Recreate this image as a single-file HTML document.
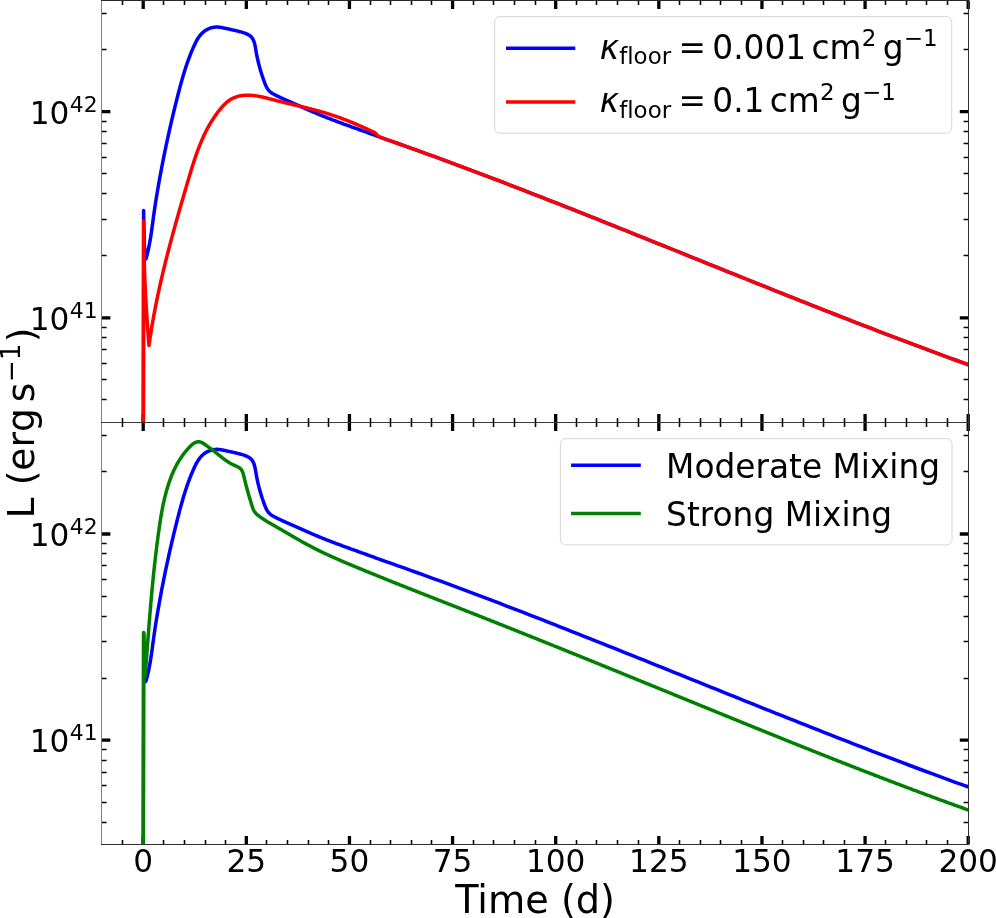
<!DOCTYPE html>
<html lang="en"><head><meta charset="utf-8"><title>Light curves</title>
<style>html,body{margin:0;padding:0;background:#fff;}body{width:996px;height:918px;overflow:hidden;}svg{display:block;}</style>
</head><body>
<svg width="996" height="918" viewBox="0 0 996 918" style="display:block">
<rect x="0" y="0" width="996" height="918" fill="#fff"/>
<defs>
<clipPath id="c1"><rect x="101.95" y="0.5" width="866.25" height="422.0"/></clipPath>
<clipPath id="c2"><rect x="101.95" y="422.5" width="866.25" height="422.0"/></clipPath>
</defs>
<path d="M122.50,0.50V5.10M122.50,417.90V427.10M122.50,839.90V844.50M163.50,0.50V5.10M163.50,417.90V427.10M163.50,839.90V844.50M184.50,0.50V5.10M184.50,417.90V427.10M184.50,839.90V844.50M205.50,0.50V5.10M205.50,417.90V427.10M205.50,839.90V844.50M225.50,0.50V5.10M225.50,417.90V427.10M225.50,839.90V844.50M266.50,0.50V5.10M266.50,417.90V427.10M266.50,839.90V844.50M287.50,0.50V5.10M287.50,417.90V427.10M287.50,839.90V844.50M308.50,0.50V5.10M308.50,417.90V427.10M308.50,839.90V844.50M328.50,0.50V5.10M328.50,417.90V427.10M328.50,839.90V844.50M370.50,0.50V5.10M370.50,417.90V427.10M370.50,839.90V844.50M390.50,0.50V5.10M390.50,417.90V427.10M390.50,839.90V844.50M411.50,0.50V5.10M411.50,417.90V427.10M411.50,839.90V844.50M431.50,0.50V5.10M431.50,417.90V427.10M431.50,839.90V844.50M473.50,0.50V5.10M473.50,417.90V427.10M473.50,839.90V844.50M493.50,0.50V5.10M493.50,417.90V427.10M493.50,839.90V844.50M514.50,0.50V5.10M514.50,417.90V427.10M514.50,839.90V844.50M535.50,0.50V5.10M535.50,417.90V427.10M535.50,839.90V844.50M576.50,0.50V5.10M576.50,417.90V427.10M576.50,839.90V844.50M596.50,0.50V5.10M596.50,417.90V427.10M596.50,839.90V844.50M617.50,0.50V5.10M617.50,417.90V427.10M617.50,839.90V844.50M638.50,0.50V5.10M638.50,417.90V427.10M638.50,839.90V844.50M679.50,0.50V5.10M679.50,417.90V427.10M679.50,839.90V844.50M700.50,0.50V5.10M700.50,417.90V427.10M700.50,839.90V844.50M720.50,0.50V5.10M720.50,417.90V427.10M720.50,839.90V844.50M741.50,0.50V5.10M741.50,417.90V427.10M741.50,839.90V844.50M782.50,0.50V5.10M782.50,417.90V427.10M782.50,839.90V844.50M803.50,0.50V5.10M803.50,417.90V427.10M803.50,839.90V844.50M823.50,0.50V5.10M823.50,417.90V427.10M823.50,839.90V844.50M844.50,0.50V5.10M844.50,417.90V427.10M844.50,839.90V844.50M885.50,0.50V5.10M885.50,417.90V427.10M885.50,839.90V844.50M906.50,0.50V5.10M906.50,417.90V427.10M906.50,839.90V844.50M926.50,0.50V5.10M926.50,417.90V427.10M926.50,839.90V844.50M947.50,0.50V5.10M947.50,417.90V427.10M947.50,839.90V844.50M101.95,399.50H106.55M963.60,399.50H968.20M101.95,379.50H106.55M963.60,379.50H968.20M101.95,363.50H106.55M963.60,363.50H968.20M101.95,349.50H106.55M963.60,349.50H968.20M101.95,337.50H106.55M963.60,337.50H968.20M101.95,327.50H106.55M963.60,327.50H968.20M101.95,255.50H106.55M963.60,255.50H968.20M101.95,219.50H106.55M963.60,219.50H968.20M101.95,193.50H106.55M963.60,193.50H968.20M101.95,173.50H106.55M963.60,173.50H968.20M101.95,157.50H106.55M963.60,157.50H968.20M101.95,143.50H106.55M963.60,143.50H968.20M101.95,131.50H106.55M963.60,131.50H968.20M101.95,121.50H106.55M963.60,121.50H968.20M101.95,49.50H106.55M963.60,49.50H968.20M101.95,13.50H106.55M963.60,13.50H968.20M101.95,822.50H106.55M963.60,822.50H968.20M101.95,802.50H106.55M963.60,802.50H968.20M101.95,785.50H106.55M963.60,785.50H968.20M101.95,772.50H106.55M963.60,772.50H968.20M101.95,760.50H106.55M963.60,760.50H968.20M101.95,749.50H106.55M963.60,749.50H968.20M101.95,678.50H106.55M963.60,678.50H968.20M101.95,641.50H106.55M963.60,641.50H968.20M101.95,616.50H106.55M963.60,616.50H968.20M101.95,596.50H106.55M963.60,596.50H968.20M101.95,579.50H106.55M963.60,579.50H968.20M101.95,565.50H106.55M963.60,565.50H968.20M101.95,553.50H106.55M963.60,553.50H968.20M101.95,543.50H106.55M963.60,543.50H968.20M101.95,471.50H106.55M963.60,471.50H968.20M101.95,435.50H106.55M963.60,435.50H968.20" stroke="#000" stroke-width="1.55" fill="none"/>
<path d="M143.20,0.50V8.90M143.20,414.10V430.90M143.20,836.10V844.50M246.32,0.50V8.90M246.32,414.10V430.90M246.32,836.10V844.50M349.45,0.50V8.90M349.45,414.10V430.90M349.45,836.10V844.50M452.57,0.50V8.90M452.57,414.10V430.90M452.57,836.10V844.50M555.70,0.50V8.90M555.70,414.10V430.90M555.70,836.10V844.50M658.83,0.50V8.90M658.83,414.10V430.90M658.83,836.10V844.50M761.95,0.50V8.90M761.95,414.10V430.90M761.95,836.10V844.50M865.08,0.50V8.90M865.08,414.10V430.90M865.08,836.10V844.50M968.20,0.50V8.90M968.20,414.10V430.90M968.20,836.10V844.50M101.95,317.80H110.35M959.80,317.80H968.20M101.95,111.70H110.35M959.80,111.70H968.20M101.95,740.10H110.35M959.80,740.10H968.20M101.95,534.00H110.35M959.80,534.00H968.20" stroke="#000" stroke-width="3.3" fill="none"/>
<g clip-path="url(#c1)">
<path d="M143.30,430.00 L143.60,210.60 L144.30,245.00 L145.80,259.30 L146.03,258.53 L146.25,257.76 L146.46,256.99 L146.68,256.22 L146.88,255.45 L147.08,254.67 L147.28,253.90 L147.48,253.12 L147.66,252.34 L147.85,251.57 L148.03,250.79 L148.21,250.01 L148.38,249.23 L148.55,248.45 L148.72,247.67 L148.88,246.88 L149.04,246.10 L149.19,245.32 L149.34,244.53 L149.49,243.75 L149.64,242.96 L149.78,242.18 L149.92,241.39 L150.06,240.60 L150.20,239.82 L150.33,239.03 L150.46,238.24 L150.59,237.45 L150.72,236.66 L150.84,235.87 L150.96,235.08 L151.08,234.29 L151.20,233.50 L151.32,232.71 L151.44,231.91 L151.55,231.12 L151.66,230.33 L151.77,229.54 L151.89,228.74 L152.00,227.95 L152.10,227.16 L152.21,226.36 L152.32,225.57 L152.43,224.78 L152.53,223.98 L152.64,223.19 L152.75,222.40 L152.85,221.60 L152.96,220.81 L153.07,220.02 L153.17,219.22 L153.28,218.43 L153.39,217.63 L153.50,216.84 L153.60,216.05 L153.71,215.26 L153.82,214.46 L153.93,213.67 L154.05,212.88 L154.16,212.09 L154.27,211.29 L154.39,210.50 L154.50,209.71 L154.62,208.92 L154.74,208.13 L154.86,207.34 L154.97,206.54 L155.09,205.75 L155.21,204.96 L155.34,204.17 L155.46,203.38 L155.58,202.59 L155.70,201.80 L155.83,201.01 L155.95,200.22 L156.08,199.43 L156.21,198.64 L156.33,197.85 L156.46,197.06 L156.59,196.28 L156.72,195.49 L156.85,194.70 L156.98,193.91 L157.11,193.12 L157.24,192.33 L157.38,191.54 L157.51,190.76 L157.65,189.97 L157.78,189.18 L157.92,188.39 L158.05,187.60 L158.19,186.82 L158.33,186.03 L158.46,185.24 L158.60,184.45 L158.74,183.67 L158.88,182.88 L159.02,182.09 L159.16,181.30 L159.30,180.52 L159.44,179.73 L159.59,178.94 L159.73,178.16 L159.87,177.37 L160.01,176.58 L160.16,175.79 L160.30,175.01 L160.45,174.22 L160.60,173.44 L160.74,172.65 L160.89,171.86 L161.04,171.08 L161.18,170.29 L161.33,169.50 L161.48,168.72 L161.63,167.93 L161.78,167.15 L161.93,166.36 L162.08,165.57 L162.24,164.79 L162.39,164.00 L162.54,163.22 L162.70,162.43 L162.85,161.65 L163.00,160.86 L163.16,160.08 L163.31,159.29 L163.47,158.51 L163.63,157.72 L163.78,156.94 L163.94,156.15 L164.10,155.37 L164.26,154.58 L164.42,153.80 L164.58,153.02 L164.74,152.23 L164.90,151.45 L165.06,150.66 L165.22,149.88 L165.39,149.10 L165.55,148.31 L165.71,147.53 L165.88,146.75 L166.04,145.96 L166.21,145.18 L166.37,144.40 L166.54,143.61 L166.70,142.83 L166.87,142.05 L167.04,141.27 L167.21,140.48 L167.38,139.70 L167.55,138.92 L167.72,138.14 L167.89,137.35 L168.06,136.57 L168.23,135.79 L168.40,135.01 L168.57,134.23 L168.75,133.45 L168.92,132.67 L169.09,131.88 L169.27,131.10 L169.44,130.32 L169.62,129.54 L169.79,128.76 L169.97,127.98 L170.15,127.20 L170.33,126.42 L170.50,125.64 L170.68,124.86 L170.86,124.08 L171.04,123.30 L171.22,122.52 L171.40,121.74 L171.58,120.96 L171.76,120.18 L171.95,119.41 L172.13,118.63 L172.31,117.85 L172.50,117.07 L172.68,116.29 L172.87,115.51 L173.05,114.73 L173.24,113.96 L173.42,113.18 L173.61,112.40 L173.80,111.62 L173.99,110.85 L174.17,110.07 L174.36,109.29 L174.55,108.52 L174.74,107.74 L174.93,106.96 L175.12,106.19 L175.32,105.41 L175.51,104.63 L175.70,103.86 L175.89,103.08 L176.09,102.31 L176.28,101.53 L176.47,100.76 L176.67,99.98 L176.87,99.21 L177.06,98.43 L177.26,97.66 L177.45,96.88 L177.65,96.11 L177.85,95.33 L178.05,94.56 L178.25,93.79 L178.45,93.01 L178.65,92.24 L178.85,91.47 L179.05,90.69 L179.25,89.92 L179.46,89.15 L179.66,88.38 L179.86,87.60 L180.07,86.83 L180.28,86.06 L180.48,85.29 L180.69,84.52 L180.90,83.75 L181.11,82.98 L181.33,82.21 L181.54,81.44 L181.76,80.67 L181.97,79.90 L182.19,79.13 L182.41,78.37 L182.63,77.60 L182.85,76.83 L183.08,76.07 L183.30,75.30 L183.53,74.54 L183.76,73.77 L183.99,73.01 L184.23,72.24 L184.46,71.48 L184.70,70.72 L184.94,69.96 L185.18,69.19 L185.43,68.43 L185.67,67.67 L185.92,66.91 L186.17,66.15 L186.42,65.40 L186.68,64.64 L186.94,63.88 L187.20,63.13 L187.46,62.37 L187.73,61.62 L188.00,60.86 L188.27,60.11 L188.54,59.36 L188.82,58.60 L189.10,57.85 L189.38,57.10 L189.67,56.35 L189.95,55.60 L190.25,54.86 L190.54,54.11 L190.84,53.36 L191.14,52.62 L191.45,51.87 L191.75,51.13 L192.07,50.39 L192.38,49.65 L192.70,48.91 L193.02,48.17 L193.35,47.43 L193.68,46.69 L194.01,45.95 L194.35,45.22 L194.69,44.48 L195.04,43.75 L195.39,43.03 L195.75,42.31 L196.12,41.59 L196.50,40.88 L196.89,40.18 L197.29,39.49 L197.71,38.80 L198.13,38.13 L198.57,37.47 L199.02,36.82 L199.49,36.18 L199.97,35.55 L200.47,34.94 L200.99,34.35 L201.53,33.77 L202.08,33.21 L202.66,32.67 L203.26,32.15 L203.87,31.64 L204.51,31.16 L205.17,30.70 L205.84,30.26 L206.53,29.85 L207.24,29.46 L207.96,29.10 L208.69,28.76 L209.43,28.45 L210.19,28.17 L210.95,27.92 L211.72,27.70 L212.49,27.51 L213.27,27.35 L214.06,27.22 L214.85,27.13 L215.64,27.08 L216.43,27.05 L217.22,27.06 L218.01,27.10 L218.81,27.16 L219.60,27.24 L220.40,27.35 L221.19,27.47 L221.98,27.61 L222.78,27.77 L223.57,27.93 L224.36,28.10 L225.15,28.28 L225.94,28.46 L226.73,28.64 L227.51,28.81 L228.30,28.99 L229.08,29.16 L229.86,29.33 L230.64,29.50 L231.42,29.67 L232.20,29.84 L232.98,30.01 L233.76,30.18 L234.53,30.36 L235.31,30.53 L236.09,30.71 L236.86,30.90 L237.64,31.09 L238.42,31.28 L239.20,31.49 L239.97,31.69 L240.76,31.91 L241.54,32.14 L242.32,32.37 L243.10,32.61 L243.89,32.87 L244.67,33.13 L245.45,33.42 L246.22,33.72 L246.97,34.04 L247.70,34.38 L248.40,34.75 L249.07,35.15 L249.71,35.57 L250.31,36.04 L250.86,36.53 L251.37,37.07 L251.85,37.63 L252.28,38.23 L252.68,38.85 L253.04,39.50 L253.37,40.18 L253.68,40.88 L253.95,41.60 L254.21,42.34 L254.44,43.10 L254.65,43.87 L254.84,44.65 L255.02,45.45 L255.19,46.25 L255.35,47.06 L255.49,47.88 L255.64,48.70 L255.78,49.53 L255.91,50.35 L256.05,51.17 L256.19,51.99 L256.34,52.80 L256.48,53.61 L256.64,54.41 L256.79,55.22 L256.95,56.01 L257.11,56.81 L257.28,57.60 L257.44,58.39 L257.62,59.17 L257.79,59.95 L257.97,60.73 L258.15,61.51 L258.34,62.28 L258.53,63.06 L258.72,63.83 L258.91,64.60 L259.11,65.36 L259.32,66.13 L259.52,66.89 L259.73,67.65 L259.95,68.41 L260.16,69.17 L260.38,69.93 L260.61,70.69 L260.83,71.44 L261.07,72.20 L261.30,72.96 L261.54,73.71 L261.78,74.47 L262.03,75.22 L262.27,75.98 L262.53,76.73 L262.78,77.49 L263.04,78.25 L263.31,79.00 L263.57,79.76 L263.84,80.52 L264.12,81.28 L264.40,82.04 L264.68,82.81 L264.97,83.57 L265.27,84.32 L265.58,85.07 L265.90,85.81 L266.25,86.53 L266.61,87.24 L266.99,87.93 L267.40,88.60 L267.84,89.25 L268.31,89.87 L268.80,90.46 L269.34,91.02 L269.90,91.55 L270.50,92.05 L271.13,92.53 L271.78,92.98 L272.45,93.41 L273.14,93.82 L273.84,94.22 L274.55,94.60 L275.26,94.98 L275.98,95.36 L276.70,95.72 L277.42,96.08 L278.14,96.44 L278.87,96.79 L279.60,97.14 L280.32,97.48 L281.05,97.82 L281.78,98.16 L282.51,98.49 L283.25,98.82 L283.98,99.15 L284.71,99.48 L285.45,99.80 L286.18,100.12 L286.92,100.45 L287.65,100.77 L288.39,101.09 L289.12,101.40 L289.86,101.72 L290.59,102.04 L291.33,102.36 L292.06,102.68 L292.79,103.01 L293.53,103.33 L294.26,103.65 L294.99,103.98 L295.72,104.30 L296.45,104.63 L297.18,104.95 L297.91,105.28 L298.64,105.60 L299.37,105.93 L300.10,106.26 L300.83,106.58 L301.56,106.91 L302.29,107.23 L303.02,107.56 L303.75,107.89 L304.48,108.21 L305.21,108.54 L305.94,108.86 L306.67,109.18 L307.40,109.51 L308.13,109.83 L308.87,110.15 L309.60,110.47 L310.33,110.79 L311.06,111.11 L311.79,111.43 L312.53,111.75 L313.26,112.06 L314.00,112.38 L314.73,112.69 L315.47,113.00 L316.20,113.31 L316.94,113.62 L317.68,113.93 L318.41,114.24 L319.15,114.54 L319.89,114.85 L320.63,115.15 L321.37,115.45 L322.11,115.75 L322.85,116.05 L323.60,116.35 L324.34,116.64 L325.08,116.94 L325.82,117.23 L326.57,117.53 L327.31,117.82 L328.06,118.11 L328.80,118.40 L329.55,118.69 L330.30,118.98 L331.04,119.26 L331.79,119.55 L332.54,119.84 L333.28,120.12 L334.03,120.41 L334.78,120.69 L335.53,120.97 L336.28,121.25 L337.03,121.53 L337.78,121.81 L338.53,122.09 L339.28,122.37 L340.03,122.65 L340.78,122.93 L341.53,123.21 L342.28,123.48 L343.03,123.76 L343.78,124.03 L344.54,124.31 L345.29,124.58 L346.04,124.86 L346.79,125.13 L347.55,125.40 L348.30,125.68 L349.05,125.95 L349.80,126.22 L350.56,126.49 L351.31,126.77 L352.06,127.04 L352.82,127.31 L353.57,127.58 L354.32,127.85 L355.08,128.12 L355.83,128.39 L356.58,128.66 L357.34,128.94 L358.09,129.21 L358.84,129.48 L359.60,129.75 L360.35,130.02 L361.10,130.29 L361.86,130.56 L362.61,130.83 L363.36,131.10 L364.12,131.37 L364.87,131.65 L365.62,131.92 L366.38,132.19 L367.13,132.46 L367.88,132.73 L368.63,133.01 L369.38,133.28 L370.13,133.55 L370.89,133.83 L371.64,134.10 L372.39,134.38 L373.14,134.65 L373.89,134.93 L374.64,135.20 L375.39,135.48 L376.14,135.76 L376.89,136.04 L377.64,136.32 L378.39,136.59 L379.13,136.87 L379.88,137.16 L380.00,137.20 L386.00,139.28 L392.00,141.39 L398.00,143.51 L404.00,145.65 L410.00,147.79 L416.00,149.95 L422.00,152.11 L428.00,154.29 L434.00,156.48 L440.00,158.68 L446.00,160.89 L452.00,163.11 L458.00,165.34 L464.00,167.58 L470.00,169.82 L476.00,172.08 L482.00,174.35 L488.00,176.62 L494.00,178.90 L500.00,181.19 L506.00,183.49 L512.00,185.80 L518.00,188.11 L524.00,190.43 L530.00,192.76 L536.00,195.09 L542.00,197.43 L548.00,199.77 L554.00,202.13 L560.00,204.48 L566.00,206.84 L572.00,209.21 L578.00,211.58 L584.00,213.96 L590.00,216.34 L596.00,218.73 L602.00,221.12 L608.00,223.51 L614.00,225.91 L620.00,228.31 L626.00,230.71 L632.00,233.11 L638.00,235.52 L644.00,237.93 L650.00,240.34 L656.00,242.76 L662.00,245.17 L668.00,247.59 L674.00,250.00 L680.00,252.42 L686.00,254.84 L692.00,257.26 L698.00,259.68 L704.00,262.10 L710.00,264.51 L716.00,266.93 L722.00,269.35 L728.00,271.76 L734.00,274.18 L740.00,276.59 L746.00,279.00 L752.00,281.41 L758.00,283.81 L764.00,286.21 L770.00,288.61 L776.00,291.01 L782.00,293.40 L788.00,295.79 L794.00,298.18 L800.00,300.56 L806.00,302.94 L812.00,305.31 L818.00,307.68 L824.00,310.04 L830.00,312.40 L836.00,314.75 L842.00,317.09 L848.00,319.43 L854.00,321.77 L860.00,324.09 L866.00,326.41 L872.00,328.73 L878.00,331.03 L884.00,333.33 L890.00,335.62 L896.00,337.91 L902.00,340.18 L908.00,342.45 L914.00,344.70 L920.00,346.95 L926.00,349.19 L932.00,351.42 L938.00,353.64 L944.00,355.85 L950.00,358.05 L956.00,360.24 L962.00,362.42 L968.00,364.58 L970.20,365.38" stroke="#0000ff" fill="none" stroke-width="3.5" stroke-linejoin="round" stroke-linecap="butt"/>
<path d="M143.40,430.00 L143.70,221.00 L143.70,221.50 L143.70,222.00 L143.70,222.50 L143.70,223.00 L143.70,223.50 L143.70,224.00 L143.70,224.50 L143.70,225.00 L143.70,225.50 L143.70,226.00 L143.70,226.50 L143.70,227.00 L143.70,227.50 L143.71,228.00 L143.71,228.50 L143.71,229.00 L143.71,229.50 L143.72,230.00 L143.72,230.50 L143.72,231.00 L143.72,231.50 L143.73,232.00 L143.73,232.50 L143.73,233.00 L143.74,233.50 L143.74,234.00 L143.75,234.50 L143.75,235.00 L143.76,235.50 L143.76,236.00 L143.77,236.50 L143.77,237.00 L143.78,237.50 L143.78,238.00 L143.79,238.50 L143.79,239.00 L143.80,239.50 L143.81,240.00 L143.81,240.50 L143.82,241.00 L143.83,241.50 L143.83,242.00 L143.84,242.50 L143.85,243.00 L143.86,243.50 L143.86,244.00 L143.87,244.50 L143.88,245.00 L143.89,245.50 L143.90,246.00 L143.91,246.50 L143.91,247.00 L143.92,247.50 L143.93,248.00 L143.94,248.50 L143.95,249.00 L143.96,249.50 L143.97,250.00 L143.98,250.50 L143.99,251.00 L144.00,251.50 L144.01,252.00 L144.02,252.50 L144.04,253.00 L144.05,253.50 L144.06,254.00 L144.07,254.50 L144.08,255.00 L144.09,255.50 L144.11,256.00 L144.12,256.50 L144.13,257.00 L144.14,257.50 L144.16,258.00 L144.17,258.50 L144.18,259.00 L144.20,259.50 L144.21,260.00 L144.22,260.50 L144.24,261.00 L144.25,261.50 L144.27,262.00 L144.28,262.50 L144.30,263.00 L144.31,263.50 L144.33,264.00 L144.34,264.49 L144.36,264.99 L144.37,265.49 L144.39,265.99 L144.40,266.49 L144.42,266.99 L144.44,267.49 L144.45,267.99 L144.47,268.49 L144.49,268.99 L144.50,269.49 L144.52,269.99 L144.54,270.49 L144.56,270.99 L144.57,271.49 L144.59,271.99 L144.61,272.49 L144.63,272.99 L144.65,273.49 L144.66,273.99 L144.68,274.49 L144.70,274.99 L144.72,275.49 L144.74,275.99 L144.76,276.49 L144.78,276.99 L144.80,277.49 L144.82,277.99 L144.84,278.49 L144.86,278.99 L144.88,279.49 L144.90,279.99 L144.92,280.48 L144.94,280.98 L144.96,281.48 L144.98,281.98 L145.01,282.48 L145.03,282.98 L145.05,283.48 L145.07,283.98 L145.09,284.48 L145.12,284.98 L145.14,285.48 L145.16,285.98 L145.18,286.48 L145.21,286.98 L145.23,287.48 L145.25,287.98 L145.28,288.48 L145.30,288.98 L145.32,289.48 L145.35,289.98 L145.37,290.48 L145.40,290.97 L145.42,291.47 L145.45,291.97 L145.47,292.47 L145.50,292.97 L145.52,293.47 L145.55,293.97 L145.57,294.47 L145.60,294.97 L145.62,295.47 L145.65,295.97 L145.68,296.47 L145.70,296.97 L145.73,297.47 L145.75,297.97 L145.78,298.47 L145.81,298.96 L145.84,299.46 L145.86,299.96 L145.89,300.46 L145.92,300.96 L145.95,301.46 L145.97,301.96 L146.00,302.46 L146.03,302.96 L146.06,303.46 L146.09,303.96 L146.12,304.46 L146.14,304.96 L146.17,305.45 L146.20,305.95 L146.23,306.45 L146.26,306.95 L146.29,307.45 L146.32,307.95 L146.35,308.45 L146.38,308.95 L146.41,309.45 L146.44,309.95 L146.47,310.45 L146.50,310.95 L146.53,311.44 L146.56,311.94 L146.60,312.44 L146.63,312.94 L146.66,313.44 L146.69,313.94 L146.72,314.44 L146.75,314.94 L146.79,315.44 L146.82,315.94 L146.85,316.43 L146.88,316.93 L146.92,317.43 L146.95,317.93 L146.98,318.43 L147.02,318.93 L147.05,319.43 L147.08,319.93 L147.12,320.43 L147.15,320.92 L147.18,321.42 L147.22,321.92 L147.25,322.42 L147.29,322.92 L147.32,323.42 L147.36,323.92 L147.39,324.42 L147.43,324.91 L147.46,325.41 L147.50,325.91 L147.53,326.41 L147.57,326.91 L147.60,327.41 L147.64,327.91 L147.68,328.41 L147.71,328.90 L147.75,329.40 L147.78,329.90 L147.82,330.40 L147.86,330.90 L147.89,331.40 L147.93,331.90 L147.97,332.40 L148.01,332.89 L148.04,333.39 L148.08,333.89 L148.12,334.39 L148.16,334.89 L148.20,335.39 L148.23,335.88 L148.27,336.38 L148.31,336.88 L148.35,337.38 L148.39,337.88 L148.43,338.38 L148.47,338.88 L148.51,339.37 L148.55,339.87 L148.58,340.37 L148.62,340.87 L148.66,341.37 L148.70,341.87 L148.74,342.36 L148.78,342.86 L148.82,343.36 L148.87,343.86 L148.91,344.36 L148.95,344.86 L148.99,345.35 L149.00,345.50 L149.11,344.70 L149.22,343.90 L149.34,343.09 L149.45,342.29 L149.56,341.49 L149.68,340.69 L149.80,339.89 L149.92,339.09 L150.03,338.29 L150.15,337.49 L150.27,336.70 L150.40,335.90 L150.52,335.10 L150.64,334.30 L150.77,333.51 L150.89,332.71 L151.02,331.92 L151.14,331.12 L151.27,330.32 L151.40,329.53 L151.53,328.74 L151.66,327.94 L151.79,327.15 L151.92,326.36 L152.06,325.56 L152.19,324.77 L152.33,323.98 L152.46,323.19 L152.60,322.39 L152.74,321.60 L152.88,320.81 L153.02,320.02 L153.16,319.23 L153.30,318.44 L153.44,317.65 L153.58,316.87 L153.72,316.08 L153.87,315.29 L154.01,314.50 L154.16,313.71 L154.31,312.93 L154.45,312.14 L154.60,311.35 L154.75,310.57 L154.90,309.78 L155.05,309.00 L155.20,308.21 L155.36,307.43 L155.51,306.64 L155.66,305.86 L155.82,305.07 L155.97,304.29 L156.13,303.50 L156.29,302.72 L156.45,301.94 L156.60,301.16 L156.76,300.37 L156.92,299.59 L157.08,298.81 L157.25,298.03 L157.41,297.25 L157.57,296.47 L157.73,295.69 L157.90,294.91 L158.06,294.12 L158.23,293.35 L158.40,292.57 L158.56,291.79 L158.73,291.01 L158.90,290.23 L159.07,289.45 L159.24,288.67 L159.41,287.89 L159.58,287.11 L159.76,286.34 L159.93,285.56 L160.10,284.78 L160.28,284.00 L160.45,283.23 L160.63,282.45 L160.80,281.67 L160.98,280.90 L161.16,280.12 L161.34,279.35 L161.51,278.57 L161.69,277.80 L161.87,277.02 L162.05,276.25 L162.24,275.47 L162.42,274.70 L162.60,273.92 L162.78,273.15 L162.97,272.37 L163.15,271.60 L163.34,270.82 L163.52,270.05 L163.71,269.28 L163.90,268.50 L164.08,267.73 L164.27,266.96 L164.46,266.19 L164.65,265.41 L164.84,264.64 L165.03,263.87 L165.22,263.10 L165.41,262.32 L165.60,261.55 L165.80,260.78 L165.99,260.01 L166.18,259.24 L166.38,258.47 L166.57,257.69 L166.77,256.92 L166.96,256.15 L167.16,255.38 L167.35,254.61 L167.55,253.84 L167.75,253.07 L167.95,252.30 L168.15,251.53 L168.35,250.76 L168.55,249.99 L168.75,249.22 L168.95,248.45 L169.15,247.68 L169.35,246.91 L169.55,246.14 L169.75,245.37 L169.96,244.60 L170.16,243.83 L170.37,243.06 L170.57,242.29 L170.77,241.52 L170.98,240.75 L171.19,239.98 L171.39,239.21 L171.60,238.44 L171.81,237.67 L172.01,236.90 L172.22,236.14 L172.43,235.37 L172.64,234.60 L172.85,233.83 L173.06,233.06 L173.27,232.29 L173.48,231.52 L173.69,230.75 L173.90,229.98 L174.11,229.21 L174.32,228.45 L174.54,227.68 L174.75,226.91 L174.96,226.14 L175.18,225.37 L175.39,224.60 L175.60,223.83 L175.82,223.06 L176.03,222.30 L176.25,221.53 L176.46,220.76 L176.68,219.99 L176.90,219.22 L177.11,218.45 L177.33,217.68 L177.55,216.91 L177.76,216.14 L177.98,215.38 L178.20,214.61 L178.42,213.84 L178.64,213.07 L178.86,212.30 L179.08,211.53 L179.30,210.76 L179.52,209.99 L179.74,209.22 L179.96,208.45 L180.18,207.68 L180.40,206.91 L180.62,206.14 L180.84,205.37 L181.06,204.60 L181.29,203.83 L181.51,203.06 L181.73,202.29 L181.95,201.52 L182.18,200.75 L182.40,199.98 L182.62,199.21 L182.85,198.44 L183.07,197.67 L183.30,196.90 L183.52,196.13 L183.75,195.36 L183.97,194.59 L184.20,193.82 L184.42,193.04 L184.65,192.27 L184.87,191.50 L185.10,190.73 L185.32,189.96 L185.55,189.19 L185.78,188.41 L186.00,187.64 L186.23,186.87 L186.46,186.10 L186.68,185.32 L186.91,184.55 L187.14,183.78 L187.37,183.01 L187.59,182.23 L187.82,181.46 L188.05,180.68 L188.28,179.91 L188.51,179.14 L188.73,178.36 L188.96,177.59 L189.19,176.82 L189.42,176.04 L189.65,175.27 L189.89,174.49 L190.12,173.72 L190.35,172.95 L190.58,172.17 L190.82,171.40 L191.05,170.63 L191.29,169.86 L191.53,169.09 L191.76,168.31 L192.00,167.54 L192.24,166.77 L192.48,166.00 L192.73,165.23 L192.97,164.47 L193.22,163.70 L193.46,162.93 L193.71,162.16 L193.96,161.40 L194.21,160.63 L194.46,159.87 L194.72,159.10 L194.97,158.34 L195.23,157.58 L195.49,156.82 L195.75,156.06 L196.02,155.30 L196.28,154.54 L196.55,153.78 L196.82,153.03 L197.09,152.27 L197.36,151.52 L197.64,150.76 L197.92,150.01 L198.20,149.26 L198.48,148.51 L198.77,147.77 L199.06,147.02 L199.35,146.27 L199.64,145.53 L199.94,144.79 L200.24,144.05 L200.54,143.31 L200.84,142.57 L201.15,141.84 L201.46,141.10 L201.77,140.37 L202.09,139.64 L202.41,138.91 L202.73,138.18 L203.06,137.46 L203.39,136.73 L203.72,136.01 L204.05,135.29 L204.39,134.57 L204.73,133.86 L205.08,133.14 L205.43,132.43 L205.78,131.72 L206.14,131.01 L206.50,130.31 L206.87,129.60 L207.23,128.90 L207.61,128.20 L207.98,127.51 L208.36,126.81 L208.75,126.12 L209.13,125.43 L209.53,124.74 L209.92,124.06 L210.32,123.38 L210.73,122.70 L211.14,122.02 L211.55,121.34 L211.97,120.67 L212.40,120.00 L212.82,119.33 L213.26,118.67 L213.69,118.01 L214.13,117.35 L214.58,116.69 L215.03,116.04 L215.49,115.39 L215.95,114.74 L216.42,114.10 L216.89,113.46 L217.36,112.82 L217.85,112.18 L218.33,111.55 L218.82,110.92 L219.32,110.30 L219.82,109.68 L220.33,109.06 L220.85,108.44 L221.37,107.83 L221.89,107.22 L222.42,106.62 L222.96,106.02 L223.51,105.43 L224.06,104.85 L224.62,104.28 L225.19,103.72 L225.77,103.18 L226.36,102.64 L226.96,102.12 L227.57,101.62 L228.18,101.13 L228.81,100.66 L229.45,100.20 L230.11,99.77 L230.77,99.36 L231.45,98.96 L232.14,98.59 L232.84,98.24 L233.55,97.91 L234.27,97.60 L235.00,97.32 L235.74,97.05 L236.48,96.80 L237.23,96.56 L237.99,96.35 L238.76,96.16 L239.53,95.98 L240.30,95.83 L241.08,95.69 L241.86,95.56 L242.64,95.46 L243.43,95.37 L244.21,95.30 L245.00,95.24 L245.79,95.20 L246.58,95.17 L247.37,95.16 L248.16,95.16 L248.95,95.18 L249.74,95.21 L250.53,95.25 L251.33,95.30 L252.12,95.37 L252.92,95.45 L253.71,95.53 L254.51,95.63 L255.31,95.74 L256.10,95.86 L256.90,95.98 L257.70,96.12 L258.50,96.26 L259.29,96.41 L260.09,96.56 L260.89,96.73 L261.69,96.90 L262.49,97.07 L263.29,97.25 L264.08,97.44 L264.88,97.63 L265.68,97.82 L266.48,98.02 L267.28,98.22 L268.07,98.42 L268.87,98.63 L269.67,98.83 L270.46,99.04 L271.26,99.25 L272.05,99.45 L272.84,99.66 L273.64,99.87 L274.43,100.07 L275.22,100.28 L276.01,100.48 L276.80,100.68 L277.59,100.88 L278.38,101.08 L279.17,101.27 L279.95,101.47 L280.74,101.66 L281.52,101.86 L282.31,102.05 L283.09,102.24 L283.87,102.43 L284.66,102.62 L285.44,102.81 L286.22,103.00 L287.00,103.19 L287.78,103.38 L288.56,103.56 L289.34,103.75 L290.11,103.93 L290.89,104.12 L291.67,104.30 L292.44,104.49 L293.22,104.67 L293.99,104.86 L294.77,105.04 L295.54,105.22 L296.31,105.41 L297.09,105.59 L297.86,105.78 L298.63,105.96 L299.40,106.15 L300.17,106.33 L300.94,106.52 L301.71,106.70 L302.48,106.89 L303.25,107.07 L304.02,107.26 L304.78,107.45 L305.55,107.64 L306.32,107.82 L307.08,108.01 L307.85,108.20 L308.62,108.40 L309.38,108.59 L310.15,108.78 L310.91,108.98 L311.67,109.17 L312.44,109.37 L313.20,109.57 L313.96,109.77 L314.73,109.97 L315.49,110.17 L316.25,110.37 L317.01,110.58 L317.77,110.78 L318.54,110.99 L319.30,111.20 L320.06,111.41 L320.82,111.62 L321.58,111.84 L322.34,112.06 L323.10,112.28 L323.86,112.50 L324.62,112.72 L325.38,112.94 L326.14,113.17 L326.89,113.40 L327.65,113.63 L328.41,113.87 L329.17,114.10 L329.93,114.34 L330.69,114.58 L331.45,114.83 L332.20,115.07 L332.96,115.32 L333.72,115.57 L334.48,115.83 L335.24,116.09 L335.99,116.35 L336.75,116.61 L337.51,116.88 L338.27,117.15 L339.02,117.42 L339.78,117.69 L340.54,117.97 L341.29,118.25 L342.05,118.53 L342.81,118.82 L343.56,119.10 L344.32,119.39 L345.07,119.68 L345.83,119.98 L346.58,120.27 L347.33,120.57 L348.09,120.87 L348.84,121.17 L349.59,121.48 L350.34,121.78 L351.09,122.09 L351.84,122.40 L352.59,122.71 L353.34,123.02 L354.09,123.34 L354.83,123.65 L355.58,123.97 L356.32,124.29 L357.06,124.61 L357.81,124.93 L358.55,125.25 L359.29,125.58 L360.03,125.90 L360.76,126.23 L361.50,126.55 L362.23,126.88 L362.97,127.21 L363.70,127.54 L364.43,127.87 L365.16,128.20 L365.89,128.53 L366.62,128.86 L367.34,129.19 L368.07,129.52 L368.79,129.85 L369.51,130.19 L370.23,130.52 L370.95,130.85 L371.66,131.19 L372.38,131.52 L373.09,131.85 L373.80,132.19 L374.51,132.52 L375.10,132.80 L377.90,135.90 L380.00,137.20 L386.00,139.28 L392.00,141.39 L398.00,143.51 L404.00,145.65 L410.00,147.79 L416.00,149.95 L422.00,152.11 L428.00,154.29 L434.00,156.48 L440.00,158.68 L446.00,160.89 L452.00,163.11 L458.00,165.34 L464.00,167.58 L470.00,169.82 L476.00,172.08 L482.00,174.35 L488.00,176.62 L494.00,178.90 L500.00,181.19 L506.00,183.49 L512.00,185.80 L518.00,188.11 L524.00,190.43 L530.00,192.76 L536.00,195.09 L542.00,197.43 L548.00,199.77 L554.00,202.13 L560.00,204.48 L566.00,206.84 L572.00,209.21 L578.00,211.58 L584.00,213.96 L590.00,216.34 L596.00,218.73 L602.00,221.12 L608.00,223.51 L614.00,225.91 L620.00,228.31 L626.00,230.71 L632.00,233.11 L638.00,235.52 L644.00,237.93 L650.00,240.34 L656.00,242.76 L662.00,245.17 L668.00,247.59 L674.00,250.00 L680.00,252.42 L686.00,254.84 L692.00,257.26 L698.00,259.68 L704.00,262.10 L710.00,264.51 L716.00,266.93 L722.00,269.35 L728.00,271.76 L734.00,274.18 L740.00,276.59 L746.00,279.00 L752.00,281.41 L758.00,283.81 L764.00,286.21 L770.00,288.61 L776.00,291.01 L782.00,293.40 L788.00,295.79 L794.00,298.18 L800.00,300.56 L806.00,302.94 L812.00,305.31 L818.00,307.68 L824.00,310.04 L830.00,312.40 L836.00,314.75 L842.00,317.09 L848.00,319.43 L854.00,321.77 L860.00,324.09 L866.00,326.41 L872.00,328.73 L878.00,331.03 L884.00,333.33 L890.00,335.62 L896.00,337.91 L902.00,340.18 L908.00,342.45 L914.00,344.70 L920.00,346.95 L926.00,349.19 L932.00,351.42 L938.00,353.64 L944.00,355.85 L950.00,358.05 L956.00,360.24 L962.00,362.42 L968.00,364.58 L970.20,365.38" stroke="#ff0000" fill="none" stroke-width="3.5" stroke-linejoin="round" stroke-linecap="butt"/>
</g>
<g clip-path="url(#c2)">
<path d="M143.30,852.30 L143.60,632.90 L144.30,667.30 L145.80,681.60 L146.03,680.83 L146.25,680.06 L146.46,679.29 L146.68,678.52 L146.88,677.75 L147.08,676.97 L147.28,676.20 L147.48,675.42 L147.66,674.64 L147.85,673.87 L148.03,673.09 L148.21,672.31 L148.38,671.53 L148.55,670.75 L148.72,669.97 L148.88,669.18 L149.04,668.40 L149.19,667.62 L149.34,666.83 L149.49,666.05 L149.64,665.26 L149.78,664.48 L149.92,663.69 L150.06,662.90 L150.20,662.12 L150.33,661.33 L150.46,660.54 L150.59,659.75 L150.72,658.96 L150.84,658.17 L150.96,657.38 L151.08,656.59 L151.20,655.80 L151.32,655.01 L151.44,654.21 L151.55,653.42 L151.66,652.63 L151.77,651.84 L151.89,651.04 L152.00,650.25 L152.10,649.46 L152.21,648.66 L152.32,647.87 L152.43,647.08 L152.53,646.28 L152.64,645.49 L152.75,644.70 L152.85,643.90 L152.96,643.11 L153.07,642.32 L153.17,641.52 L153.28,640.73 L153.39,639.93 L153.50,639.14 L153.60,638.35 L153.71,637.56 L153.82,636.76 L153.93,635.97 L154.05,635.18 L154.16,634.39 L154.27,633.59 L154.39,632.80 L154.50,632.01 L154.62,631.22 L154.74,630.43 L154.86,629.64 L154.97,628.84 L155.09,628.05 L155.21,627.26 L155.34,626.47 L155.46,625.68 L155.58,624.89 L155.70,624.10 L155.83,623.31 L155.95,622.52 L156.08,621.73 L156.21,620.94 L156.33,620.15 L156.46,619.36 L156.59,618.58 L156.72,617.79 L156.85,617.00 L156.98,616.21 L157.11,615.42 L157.24,614.63 L157.38,613.84 L157.51,613.06 L157.65,612.27 L157.78,611.48 L157.92,610.69 L158.05,609.90 L158.19,609.12 L158.33,608.33 L158.46,607.54 L158.60,606.75 L158.74,605.97 L158.88,605.18 L159.02,604.39 L159.16,603.60 L159.30,602.82 L159.44,602.03 L159.59,601.24 L159.73,600.46 L159.87,599.67 L160.01,598.88 L160.16,598.09 L160.30,597.31 L160.45,596.52 L160.60,595.74 L160.74,594.95 L160.89,594.16 L161.04,593.38 L161.18,592.59 L161.33,591.80 L161.48,591.02 L161.63,590.23 L161.78,589.45 L161.93,588.66 L162.08,587.87 L162.24,587.09 L162.39,586.30 L162.54,585.52 L162.70,584.73 L162.85,583.95 L163.00,583.16 L163.16,582.38 L163.31,581.59 L163.47,580.81 L163.63,580.02 L163.78,579.24 L163.94,578.45 L164.10,577.67 L164.26,576.88 L164.42,576.10 L164.58,575.32 L164.74,574.53 L164.90,573.75 L165.06,572.96 L165.22,572.18 L165.39,571.40 L165.55,570.61 L165.71,569.83 L165.88,569.05 L166.04,568.26 L166.21,567.48 L166.37,566.70 L166.54,565.91 L166.70,565.13 L166.87,564.35 L167.04,563.57 L167.21,562.78 L167.38,562.00 L167.55,561.22 L167.72,560.44 L167.89,559.65 L168.06,558.87 L168.23,558.09 L168.40,557.31 L168.57,556.53 L168.75,555.75 L168.92,554.97 L169.09,554.18 L169.27,553.40 L169.44,552.62 L169.62,551.84 L169.79,551.06 L169.97,550.28 L170.15,549.50 L170.33,548.72 L170.50,547.94 L170.68,547.16 L170.86,546.38 L171.04,545.60 L171.22,544.82 L171.40,544.04 L171.58,543.26 L171.76,542.48 L171.95,541.71 L172.13,540.93 L172.31,540.15 L172.50,539.37 L172.68,538.59 L172.87,537.81 L173.05,537.03 L173.24,536.26 L173.42,535.48 L173.61,534.70 L173.80,533.92 L173.99,533.15 L174.17,532.37 L174.36,531.59 L174.55,530.82 L174.74,530.04 L174.93,529.26 L175.12,528.49 L175.32,527.71 L175.51,526.93 L175.70,526.16 L175.89,525.38 L176.09,524.61 L176.28,523.83 L176.47,523.06 L176.67,522.28 L176.87,521.51 L177.06,520.73 L177.26,519.96 L177.45,519.18 L177.65,518.41 L177.85,517.63 L178.05,516.86 L178.25,516.09 L178.45,515.31 L178.65,514.54 L178.85,513.77 L179.05,512.99 L179.25,512.22 L179.46,511.45 L179.66,510.68 L179.86,509.90 L180.07,509.13 L180.28,508.36 L180.48,507.59 L180.69,506.82 L180.90,506.05 L181.11,505.28 L181.33,504.51 L181.54,503.74 L181.76,502.97 L181.97,502.20 L182.19,501.43 L182.41,500.67 L182.63,499.90 L182.85,499.13 L183.08,498.37 L183.30,497.60 L183.53,496.84 L183.76,496.07 L183.99,495.31 L184.23,494.54 L184.46,493.78 L184.70,493.02 L184.94,492.26 L185.18,491.49 L185.43,490.73 L185.67,489.97 L185.92,489.21 L186.17,488.45 L186.42,487.70 L186.68,486.94 L186.94,486.18 L187.20,485.43 L187.46,484.67 L187.73,483.92 L188.00,483.16 L188.27,482.41 L188.54,481.66 L188.82,480.90 L189.10,480.15 L189.38,479.40 L189.67,478.65 L189.95,477.90 L190.25,477.16 L190.54,476.41 L190.84,475.66 L191.14,474.92 L191.45,474.17 L191.75,473.43 L192.07,472.69 L192.38,471.95 L192.70,471.21 L193.02,470.47 L193.35,469.73 L193.68,468.99 L194.01,468.25 L194.35,467.52 L194.69,466.78 L195.04,466.05 L195.39,465.33 L195.75,464.61 L196.12,463.89 L196.50,463.18 L196.89,462.48 L197.29,461.79 L197.71,461.10 L198.13,460.43 L198.57,459.77 L199.02,459.12 L199.49,458.48 L199.97,457.85 L200.47,457.24 L200.99,456.65 L201.53,456.07 L202.08,455.51 L202.66,454.97 L203.26,454.45 L203.87,453.94 L204.51,453.46 L205.17,453.00 L205.84,452.56 L206.53,452.15 L207.24,451.76 L207.96,451.40 L208.69,451.06 L209.43,450.75 L210.19,450.47 L210.95,450.22 L211.72,450.00 L212.49,449.81 L213.27,449.65 L214.06,449.52 L214.85,449.43 L215.64,449.38 L216.43,449.35 L217.22,449.36 L218.01,449.40 L218.81,449.46 L219.60,449.54 L220.40,449.65 L221.19,449.77 L221.98,449.91 L222.78,450.07 L223.57,450.23 L224.36,450.40 L225.15,450.58 L225.94,450.76 L226.73,450.94 L227.51,451.11 L228.30,451.29 L229.08,451.46 L229.86,451.63 L230.64,451.80 L231.42,451.97 L232.20,452.14 L232.98,452.31 L233.76,452.48 L234.53,452.66 L235.31,452.83 L236.09,453.01 L236.86,453.20 L237.64,453.39 L238.42,453.58 L239.20,453.79 L239.97,453.99 L240.76,454.21 L241.54,454.44 L242.32,454.67 L243.10,454.91 L243.89,455.17 L244.67,455.43 L245.45,455.72 L246.22,456.02 L246.97,456.34 L247.70,456.68 L248.40,457.05 L249.07,457.45 L249.71,457.87 L250.31,458.34 L250.86,458.83 L251.37,459.37 L251.85,459.93 L252.28,460.53 L252.68,461.15 L253.04,461.80 L253.37,462.48 L253.68,463.18 L253.95,463.90 L254.21,464.64 L254.44,465.40 L254.65,466.17 L254.84,466.95 L255.02,467.75 L255.19,468.55 L255.35,469.36 L255.49,470.18 L255.64,471.00 L255.78,471.83 L255.91,472.65 L256.05,473.47 L256.19,474.29 L256.34,475.10 L256.48,475.91 L256.64,476.71 L256.79,477.52 L256.95,478.31 L257.11,479.11 L257.28,479.90 L257.44,480.69 L257.62,481.47 L257.79,482.25 L257.97,483.03 L258.15,483.81 L258.34,484.58 L258.53,485.36 L258.72,486.13 L258.91,486.90 L259.11,487.66 L259.32,488.43 L259.52,489.19 L259.73,489.95 L259.95,490.71 L260.16,491.47 L260.38,492.23 L260.61,492.99 L260.83,493.74 L261.07,494.50 L261.30,495.26 L261.54,496.01 L261.78,496.77 L262.03,497.52 L262.27,498.28 L262.53,499.03 L262.78,499.79 L263.04,500.55 L263.31,501.30 L263.57,502.06 L263.84,502.82 L264.12,503.58 L264.40,504.34 L264.68,505.11 L264.97,505.87 L265.27,506.62 L265.58,507.37 L265.90,508.11 L266.25,508.83 L266.61,509.54 L266.99,510.23 L267.40,510.90 L267.84,511.55 L268.31,512.17 L268.80,512.76 L269.34,513.32 L269.90,513.85 L270.50,514.35 L271.13,514.83 L271.78,515.28 L272.45,515.71 L273.14,516.12 L273.84,516.52 L274.55,516.90 L275.26,517.28 L275.98,517.66 L276.70,518.02 L277.42,518.38 L278.14,518.74 L278.87,519.09 L279.60,519.44 L280.32,519.78 L281.05,520.12 L281.78,520.46 L282.51,520.79 L283.25,521.12 L283.98,521.45 L284.71,521.78 L285.45,522.10 L286.18,522.42 L286.92,522.75 L287.65,523.07 L288.39,523.39 L289.12,523.70 L289.86,524.02 L290.59,524.34 L291.33,524.66 L292.06,524.98 L292.79,525.31 L293.53,525.63 L294.26,525.95 L294.99,526.28 L295.72,526.60 L296.45,526.93 L297.18,527.25 L297.91,527.58 L298.64,527.90 L299.37,528.23 L300.10,528.56 L300.83,528.88 L301.56,529.21 L302.29,529.53 L303.02,529.86 L303.75,530.19 L304.48,530.51 L305.21,530.84 L305.94,531.16 L306.67,531.48 L307.40,531.81 L308.13,532.13 L308.87,532.45 L309.60,532.77 L310.33,533.09 L311.06,533.41 L311.79,533.73 L312.53,534.05 L313.26,534.36 L314.00,534.68 L314.73,534.99 L315.47,535.30 L316.20,535.61 L316.94,535.92 L317.68,536.23 L318.41,536.54 L319.15,536.84 L319.89,537.15 L320.63,537.45 L321.37,537.75 L322.11,538.05 L322.85,538.35 L323.60,538.65 L324.34,538.94 L325.08,539.24 L325.82,539.53 L326.57,539.83 L327.31,540.12 L328.06,540.41 L328.80,540.70 L329.55,540.99 L330.30,541.28 L331.04,541.56 L331.79,541.85 L332.54,542.14 L333.28,542.42 L334.03,542.71 L334.78,542.99 L335.53,543.27 L336.28,543.55 L337.03,543.83 L337.78,544.11 L338.53,544.39 L339.28,544.67 L340.03,544.95 L340.78,545.23 L341.53,545.51 L342.28,545.78 L343.03,546.06 L343.78,546.33 L344.54,546.61 L345.29,546.88 L346.04,547.16 L346.79,547.43 L347.55,547.70 L348.30,547.98 L349.05,548.25 L349.80,548.52 L350.56,548.79 L351.31,549.07 L352.06,549.34 L352.82,549.61 L353.57,549.88 L354.32,550.15 L355.08,550.42 L355.83,550.69 L356.58,550.96 L357.34,551.24 L358.09,551.51 L358.84,551.78 L359.60,552.05 L360.35,552.32 L361.10,552.59 L361.86,552.86 L362.61,553.13 L363.36,553.40 L364.12,553.67 L364.87,553.95 L365.62,554.22 L366.38,554.49 L367.13,554.76 L367.88,555.03 L368.63,555.31 L369.38,555.58 L370.13,555.85 L370.89,556.13 L371.64,556.40 L372.39,556.68 L373.14,556.95 L373.89,557.23 L374.64,557.50 L375.39,557.78 L376.14,558.06 L376.89,558.34 L377.64,558.62 L378.39,558.89 L379.13,559.17 L379.88,559.46 L380.00,559.50 L386.00,561.58 L392.00,563.69 L398.00,565.81 L404.00,567.95 L410.00,570.09 L416.00,572.25 L422.00,574.41 L428.00,576.59 L434.00,578.78 L440.00,580.98 L446.00,583.19 L452.00,585.41 L458.00,587.64 L464.00,589.88 L470.00,592.12 L476.00,594.38 L482.00,596.65 L488.00,598.92 L494.00,601.20 L500.00,603.49 L506.00,605.79 L512.00,608.10 L518.00,610.41 L524.00,612.73 L530.00,615.06 L536.00,617.39 L542.00,619.73 L548.00,622.07 L554.00,624.43 L560.00,626.78 L566.00,629.14 L572.00,631.51 L578.00,633.88 L584.00,636.26 L590.00,638.64 L596.00,641.03 L602.00,643.42 L608.00,645.81 L614.00,648.21 L620.00,650.61 L626.00,653.01 L632.00,655.41 L638.00,657.82 L644.00,660.23 L650.00,662.64 L656.00,665.06 L662.00,667.47 L668.00,669.89 L674.00,672.30 L680.00,674.72 L686.00,677.14 L692.00,679.56 L698.00,681.98 L704.00,684.40 L710.00,686.81 L716.00,689.23 L722.00,691.65 L728.00,694.06 L734.00,696.48 L740.00,698.89 L746.00,701.30 L752.00,703.71 L758.00,706.11 L764.00,708.51 L770.00,710.91 L776.00,713.31 L782.00,715.70 L788.00,718.09 L794.00,720.48 L800.00,722.86 L806.00,725.24 L812.00,727.61 L818.00,729.98 L824.00,732.34 L830.00,734.70 L836.00,737.05 L842.00,739.39 L848.00,741.73 L854.00,744.07 L860.00,746.39 L866.00,748.71 L872.00,751.03 L878.00,753.33 L884.00,755.63 L890.00,757.92 L896.00,760.21 L902.00,762.48 L908.00,764.75 L914.00,767.00 L920.00,769.25 L926.00,771.49 L932.00,773.72 L938.00,775.94 L944.00,778.15 L950.00,780.35 L956.00,782.54 L962.00,784.72 L968.00,786.88 L970.20,787.68" stroke="#0000ff" fill="none" stroke-width="3.5" stroke-linejoin="round" stroke-linecap="butt"/>
<path d="M143.30,852.00 L143.70,632.60 L145.20,676.00 L145.26,675.20 L145.32,674.40 L145.38,673.60 L145.44,672.80 L145.50,672.00 L145.56,671.21 L145.62,670.41 L145.68,669.61 L145.74,668.81 L145.80,668.01 L145.86,667.21 L145.92,666.41 L145.98,665.61 L146.04,664.82 L146.10,664.02 L146.16,663.22 L146.22,662.42 L146.28,661.62 L146.33,660.82 L146.39,660.03 L146.45,659.23 L146.51,658.43 L146.57,657.63 L146.63,656.83 L146.69,656.03 L146.75,655.24 L146.81,654.44 L146.87,653.64 L146.93,652.84 L146.99,652.04 L147.05,651.25 L147.11,650.45 L147.17,649.65 L147.22,648.85 L147.28,648.06 L147.34,647.26 L147.40,646.46 L147.46,645.66 L147.52,644.86 L147.58,644.07 L147.64,643.27 L147.70,642.47 L147.76,641.67 L147.82,640.88 L147.88,640.08 L147.94,639.28 L148.00,638.49 L148.07,637.69 L148.13,636.89 L148.19,636.09 L148.25,635.30 L148.31,634.50 L148.37,633.70 L148.43,632.91 L148.49,632.11 L148.55,631.31 L148.62,630.51 L148.68,629.72 L148.74,628.92 L148.80,628.12 L148.86,627.33 L148.93,626.53 L148.99,625.73 L149.05,624.94 L149.11,624.14 L149.18,623.34 L149.24,622.55 L149.30,621.75 L149.37,620.95 L149.43,620.16 L149.49,619.36 L149.56,618.56 L149.62,617.77 L149.69,616.97 L149.75,616.17 L149.82,615.38 L149.88,614.58 L149.95,613.78 L150.01,612.99 L150.08,612.19 L150.15,611.40 L150.21,610.60 L150.28,609.80 L150.35,609.01 L150.41,608.21 L150.48,607.41 L150.55,606.62 L150.62,605.82 L150.68,605.03 L150.75,604.23 L150.82,603.43 L150.89,602.64 L150.96,601.84 L151.03,601.05 L151.10,600.25 L151.17,599.45 L151.24,598.66 L151.31,597.86 L151.38,597.07 L151.45,596.27 L151.52,595.48 L151.60,594.68 L151.67,593.88 L151.74,593.09 L151.82,592.29 L151.89,591.50 L151.96,590.70 L152.04,589.91 L152.11,589.11 L152.19,588.31 L152.26,587.52 L152.34,586.72 L152.41,585.93 L152.49,585.13 L152.56,584.34 L152.64,583.54 L152.72,582.75 L152.80,581.95 L152.88,581.15 L152.95,580.36 L153.03,579.56 L153.11,578.77 L153.19,577.97 L153.27,577.18 L153.35,576.38 L153.43,575.59 L153.52,574.79 L153.60,574.00 L153.68,573.20 L153.76,572.41 L153.85,571.61 L153.93,570.81 L154.01,570.02 L154.10,569.22 L154.18,568.43 L154.27,567.63 L154.35,566.84 L154.44,566.04 L154.53,565.25 L154.61,564.45 L154.70,563.66 L154.79,562.86 L154.88,562.07 L154.97,561.27 L155.06,560.48 L155.15,559.68 L155.24,558.89 L155.33,558.09 L155.42,557.30 L155.52,556.50 L155.61,555.71 L155.70,554.91 L155.80,554.12 L155.89,553.32 L155.99,552.53 L156.08,551.73 L156.18,550.94 L156.27,550.14 L156.37,549.35 L156.47,548.55 L156.57,547.76 L156.67,546.96 L156.77,546.17 L156.87,545.37 L156.97,544.58 L157.07,543.78 L157.17,542.99 L157.27,542.19 L157.38,541.40 L157.48,540.60 L157.58,539.81 L157.69,539.01 L157.79,538.22 L157.90,537.42 L158.01,536.63 L158.11,535.83 L158.22,535.04 L158.33,534.24 L158.44,533.45 L158.55,532.65 L158.66,531.86 L158.77,531.06 L158.88,530.27 L159.00,529.48 L159.11,528.68 L159.22,527.89 L159.34,527.09 L159.45,526.30 L159.57,525.50 L159.69,524.71 L159.81,523.91 L159.93,523.12 L160.05,522.33 L160.17,521.53 L160.29,520.74 L160.42,519.94 L160.54,519.15 L160.67,518.36 L160.80,517.57 L160.93,516.78 L161.06,515.98 L161.20,515.19 L161.33,514.40 L161.47,513.61 L161.61,512.82 L161.75,512.03 L161.89,511.24 L162.04,510.46 L162.18,509.67 L162.33,508.88 L162.48,508.10 L162.64,507.31 L162.79,506.52 L162.95,505.74 L163.11,504.96 L163.27,504.17 L163.44,503.39 L163.60,502.61 L163.77,501.83 L163.95,501.05 L164.12,500.27 L164.30,499.49 L164.48,498.71 L164.67,497.94 L164.85,497.16 L165.04,496.39 L165.24,495.61 L165.43,494.84 L165.63,494.07 L165.83,493.30 L166.04,492.53 L166.25,491.76 L166.46,490.99 L166.68,490.23 L166.90,489.46 L167.12,488.70 L167.34,487.94 L167.57,487.18 L167.81,486.42 L168.05,485.66 L168.29,484.90 L168.53,484.14 L168.78,483.39 L169.03,482.63 L169.29,481.88 L169.55,481.13 L169.82,480.38 L170.09,479.63 L170.36,478.89 L170.64,478.14 L170.92,477.40 L171.21,476.66 L171.50,475.92 L171.80,475.18 L172.10,474.45 L172.41,473.71 L172.72,472.98 L173.04,472.25 L173.36,471.52 L173.69,470.80 L174.02,470.08 L174.36,469.36 L174.70,468.64 L175.05,467.92 L175.41,467.21 L175.77,466.50 L176.14,465.79 L176.52,465.09 L176.90,464.39 L177.28,463.69 L177.68,462.99 L178.08,462.30 L178.48,461.61 L178.90,460.92 L179.32,460.24 L179.74,459.56 L180.18,458.88 L180.62,458.21 L181.06,457.54 L181.52,456.87 L181.98,456.21 L182.45,455.55 L182.93,454.89 L183.42,454.24 L183.91,453.59 L184.41,452.95 L184.92,452.31 L185.44,451.67 L185.96,451.04 L186.49,450.41 L187.03,449.79 L187.58,449.17 L188.14,448.55 L188.71,447.94 L189.29,447.34 L189.87,446.74 L190.46,446.14 L191.07,445.57 L191.68,445.01 L192.30,444.48 L192.94,443.98 L193.58,443.52 L194.24,443.10 L194.90,442.72 L195.58,442.41 L196.28,442.15 L196.98,441.95 L197.70,441.83 L198.43,441.78 L199.17,441.81 L199.92,441.92 L200.66,442.11 L201.39,442.38 L202.11,442.72 L202.81,443.11 L203.50,443.55 L204.19,444.02 L204.86,444.49 L205.53,444.97 L206.20,445.44 L206.86,445.92 L207.52,446.39 L208.18,446.86 L208.83,447.33 L209.48,447.81 L210.13,448.28 L210.77,448.75 L211.41,449.23 L212.05,449.70 L212.69,450.18 L213.32,450.65 L213.96,451.13 L214.59,451.61 L215.22,452.09 L215.85,452.58 L216.48,453.06 L217.10,453.55 L217.73,454.05 L218.36,454.54 L218.98,455.04 L219.61,455.54 L220.23,456.04 L220.86,456.55 L221.49,457.05 L222.12,457.56 L222.75,458.06 L223.39,458.55 L224.03,459.04 L224.67,459.53 L225.31,460.01 L225.96,460.47 L226.62,460.93 L227.28,461.38 L227.94,461.81 L228.62,462.24 L229.29,462.65 L229.98,463.05 L230.67,463.44 L231.36,463.82 L232.07,464.19 L232.78,464.55 L233.50,464.91 L234.22,465.26 L234.95,465.60 L235.69,465.93 L236.43,466.26 L237.17,466.60 L237.89,466.95 L238.59,467.32 L239.26,467.73 L239.88,468.17 L240.46,468.66 L240.98,469.21 L241.45,469.81 L241.86,470.46 L242.23,471.15 L242.55,471.88 L242.84,472.64 L243.10,473.43 L243.33,474.23 L243.55,475.04 L243.75,475.86 L243.94,476.67 L244.14,477.48 L244.33,478.28 L244.52,479.08 L244.71,479.86 L244.90,480.64 L245.09,481.42 L245.28,482.19 L245.47,482.96 L245.66,483.72 L245.85,484.48 L246.05,485.24 L246.25,486.00 L246.45,486.76 L246.65,487.52 L246.86,488.28 L247.07,489.04 L247.28,489.81 L247.49,490.57 L247.70,491.33 L247.92,492.10 L248.14,492.86 L248.36,493.63 L248.58,494.39 L248.81,495.16 L249.03,495.93 L249.26,496.70 L249.49,497.47 L249.72,498.24 L249.95,499.01 L250.18,499.78 L250.41,500.55 L250.64,501.33 L250.88,502.10 L251.11,502.87 L251.34,503.65 L251.58,504.43 L251.81,505.20 L252.05,505.97 L252.30,506.74 L252.56,507.50 L252.84,508.25 L253.14,508.99 L253.46,509.71 L253.81,510.41 L254.19,511.10 L254.61,511.76 L255.06,512.39 L255.55,513.00 L256.08,513.59 L256.64,514.15 L257.22,514.70 L257.83,515.22 L258.46,515.73 L259.10,516.23 L259.75,516.72 L260.41,517.19 L261.08,517.66 L261.75,518.12 L262.42,518.57 L263.09,519.01 L263.77,519.45 L264.44,519.88 L265.12,520.31 L265.80,520.73 L266.49,521.15 L267.17,521.57 L267.86,521.97 L268.55,522.38 L269.23,522.78 L269.92,523.19 L270.61,523.58 L271.30,523.98 L272.00,524.38 L272.69,524.77 L273.38,525.17 L274.07,525.56 L274.76,525.95 L275.45,526.35 L276.15,526.74 L276.84,527.14 L277.53,527.54 L278.22,527.94 L278.91,528.34 L279.60,528.74 L280.29,529.14 L280.98,529.54 L281.67,529.94 L282.37,530.34 L283.06,530.75 L283.75,531.15 L284.44,531.55 L285.13,531.96 L285.82,532.36 L286.51,532.77 L287.20,533.17 L287.89,533.57 L288.58,533.98 L289.27,534.38 L289.97,534.79 L290.66,535.19 L291.35,535.59 L292.04,536.00 L292.74,536.40 L293.43,536.80 L294.12,537.20 L294.82,537.61 L295.51,538.01 L296.20,538.41 L296.90,538.81 L297.59,539.20 L298.29,539.60 L298.99,540.00 L299.68,540.39 L300.38,540.79 L301.08,541.18 L301.78,541.57 L302.48,541.97 L303.18,542.36 L303.88,542.74 L304.58,543.13 L305.28,543.52 L305.98,543.90 L306.69,544.28 L307.39,544.67 L308.10,545.05 L308.80,545.42 L309.51,545.80 L310.22,546.17 L310.93,546.55 L311.64,546.92 L312.35,547.29 L313.06,547.65 L313.77,548.02 L314.48,548.38 L315.19,548.74 L315.91,549.10 L316.62,549.46 L317.34,549.82 L318.06,550.17 L318.77,550.53 L319.49,550.88 L320.21,551.23 L320.93,551.58 L321.65,551.92 L322.37,552.27 L323.09,552.61 L323.81,552.96 L324.54,553.30 L325.26,553.64 L325.98,553.98 L326.71,554.32 L327.43,554.65 L328.16,554.99 L328.89,555.32 L329.61,555.65 L330.34,555.98 L331.07,556.31 L331.80,556.64 L332.53,556.97 L333.26,557.30 L333.99,557.62 L334.72,557.95 L335.45,558.27 L336.18,558.60 L336.91,558.92 L337.64,559.24 L338.38,559.56 L339.11,559.88 L339.84,560.20 L340.58,560.52 L341.31,560.83 L342.05,561.15 L342.78,561.46 L343.52,561.78 L344.25,562.09 L344.99,562.41 L345.72,562.72 L346.46,563.03 L347.20,563.34 L347.93,563.65 L348.67,563.96 L349.41,564.27 L350.14,564.58 L350.88,564.89 L351.62,565.20 L352.36,565.51 L353.10,565.82 L353.83,566.13 L354.57,566.43 L355.31,566.74 L356.05,567.05 L356.79,567.35 L357.53,567.66 L358.27,567.97 L359.01,568.27 L359.74,568.58 L360.48,568.88 L361.22,569.19 L361.96,569.49 L362.70,569.80 L363.44,570.10 L364.18,570.41 L364.92,570.71 L365.66,571.01 L366.40,571.32 L367.14,571.62 L367.88,571.92 L368.62,572.23 L369.36,572.53 L370.10,572.83 L370.84,573.13 L371.58,573.43 L372.33,573.74 L373.07,574.04 L373.81,574.34 L374.55,574.64 L375.29,574.94 L376.03,575.24 L376.77,575.54 L377.51,575.84 L378.25,576.14 L379.00,576.44 L379.74,576.74 L380.48,577.04 L381.22,577.34 L381.96,577.64 L382.70,577.94 L383.45,578.24 L384.19,578.54 L384.93,578.84 L385.67,579.14 L386.42,579.43 L387.16,579.73 L387.90,580.03 L388.64,580.33 L389.38,580.63 L390.13,580.92 L390.87,581.22 L391.61,581.52 L392.36,581.82 L393.10,582.11 L393.84,582.41 L394.58,582.71 L395.33,583.00 L396.07,583.30 L396.81,583.59 L397.56,583.89 L398.30,584.19 L399.04,584.48 L399.79,584.78 L400.53,585.07 L401.27,585.37 L402.02,585.66 L402.76,585.96 L403.50,586.25 L404.25,586.55 L404.99,586.84 L405.73,587.14 L406.48,587.43 L407.22,587.73 L407.97,588.02 L408.71,588.32 L409.45,588.61 L410.20,588.90 L410.94,589.20 L411.69,589.49 L412.43,589.79 L413.17,590.08 L413.92,590.37 L414.66,590.67 L415.41,590.96 L416.15,591.25 L416.90,591.55 L417.64,591.84 L418.38,592.13 L419.13,592.43 L419.87,592.72 L420.62,593.01 L421.36,593.31 L422.11,593.60 L422.85,593.89 L423.60,594.18 L424.34,594.48 L425.08,594.77 L425.83,595.06 L426.57,595.35 L427.32,595.65 L428.06,595.94 L428.81,596.23 L429.55,596.52 L430.30,596.81 L431.04,597.11 L431.79,597.40 L432.53,597.69 L433.28,597.98 L434.02,598.27 L434.77,598.57 L435.51,598.86 L436.26,599.15 L437.00,599.44 L437.75,599.73 L438.49,600.03 L439.24,600.32 L439.98,600.61 L440.73,600.90 L441.47,601.19 L442.22,601.48 L442.96,601.78 L443.71,602.07 L444.45,602.36 L445.20,602.65 L445.94,602.94 L446.69,603.23 L447.43,603.53 L448.18,603.82 L448.92,604.11 L449.67,604.40 L450.41,604.69 L451.16,604.98 L451.90,605.28 L452.65,605.57 L453.39,605.86 L454.14,606.15 L454.88,606.44 L455.63,606.74 L456.37,607.03 L457.12,607.32 L457.86,607.61 L458.61,607.90 L459.35,608.20 L460.09,608.49 L460.84,608.78 L461.58,609.07 L462.33,609.36 L463.07,609.66 L463.82,609.95 L464.56,610.24 L465.31,610.53 L466.05,610.83 L466.80,611.12 L467.54,611.41 L468.29,611.70 L469.03,612.00 L469.78,612.29 L470.52,612.58 L471.27,612.87 L472.01,613.17 L472.75,613.46 L473.50,613.75 L474.24,614.05 L474.99,614.34 L475.73,614.63 L476.48,614.93 L477.22,615.22 L477.96,615.51 L478.71,615.81 L479.45,616.10 L480.20,616.39 L480.94,616.69 L481.69,616.98 L482.43,617.28 L483.17,617.57 L483.92,617.86 L484.66,618.16 L485.41,618.45 L486.15,618.75 L486.89,619.04 L487.64,619.33 L488.38,619.63 L489.13,619.92 L489.87,620.22 L490.61,620.51 L491.36,620.81 L492.10,621.10 L492.84,621.40 L493.59,621.69 L494.33,621.99 L495.08,622.28 L495.82,622.58 L496.56,622.87 L497.31,623.17 L498.05,623.46 L498.79,623.76 L499.54,624.05 L500.28,624.35 L501.02,624.64 L501.77,624.94 L502.51,625.23 L503.25,625.53 L504.00,625.82 L504.74,626.12 L505.48,626.42 L506.23,626.71 L506.97,627.01 L507.71,627.30 L508.46,627.60 L509.20,627.90 L509.94,628.19 L510.69,628.49 L511.43,628.78 L512.17,629.08 L512.92,629.38 L513.66,629.67 L514.40,629.97 L515.15,630.27 L515.89,630.56 L516.63,630.86 L517.37,631.16 L518.12,631.45 L518.86,631.75 L519.60,632.05 L520.35,632.34 L521.09,632.64 L521.83,632.94 L522.57,633.23 L523.32,633.53 L524.06,633.83 L524.80,634.12 L525.55,634.42 L526.29,634.72 L527.03,635.02 L527.77,635.31 L528.52,635.61 L529.26,635.91 L530.00,636.21 L530.74,636.50 L531.49,636.80 L532.23,637.10 L532.97,637.40 L533.71,637.69 L534.46,637.99 L535.20,638.29 L535.94,638.59 L536.68,638.89 L537.43,639.18 L538.17,639.48 L538.91,639.78 L539.65,640.08 L540.40,640.38 L541.14,640.67 L541.88,640.97 L542.62,641.27 L543.37,641.57 L544.11,641.87 L544.85,642.17 L545.59,642.46 L546.33,642.76 L547.08,643.06 L547.82,643.36 L548.56,643.66 L549.30,643.96 L550.05,644.26 L550.79,644.55 L551.53,644.85 L552.27,645.15 L553.01,645.45 L553.76,645.75 L554.50,646.05 L555.24,646.35 L555.98,646.65 L556.72,646.95 L557.47,647.24 L558.21,647.54 L558.95,647.84 L559.69,648.14 L560.43,648.44 L561.17,648.74 L561.92,649.04 L562.66,649.34 L563.40,649.64 L564.14,649.94 L564.88,650.24 L565.63,650.54 L566.37,650.84 L567.11,651.14 L567.85,651.44 L568.59,651.74 L569.33,652.04 L570.08,652.34 L570.82,652.64 L571.56,652.94 L572.30,653.24 L573.04,653.54 L573.78,653.84 L574.53,654.14 L575.27,654.44 L576.01,654.74 L576.75,655.04 L577.49,655.34 L578.23,655.64 L578.98,655.94 L579.72,656.24 L580.46,656.54 L581.20,656.84 L581.94,657.14 L582.68,657.44 L583.42,657.74 L584.17,658.04 L584.91,658.34 L585.65,658.64 L586.39,658.94 L587.13,659.24 L587.87,659.54 L588.61,659.84 L589.36,660.14 L590.10,660.44 L590.84,660.74 L591.58,661.04 L592.32,661.34 L593.06,661.65 L593.80,661.95 L594.54,662.25 L595.29,662.55 L596.03,662.85 L596.77,663.15 L597.51,663.45 L598.25,663.75 L598.99,664.05 L599.73,664.35 L600.47,664.66 L601.22,664.96 L601.96,665.26 L602.70,665.56 L603.44,665.86 L604.18,666.16 L604.92,666.46 L605.66,666.76 L606.40,667.06 L607.14,667.37 L607.88,667.67 L608.63,667.97 L609.37,668.27 L610.11,668.57 L610.85,668.87 L611.59,669.17 L612.33,669.48 L613.07,669.78 L613.81,670.08 L614.55,670.38 L615.30,670.68 L616.04,670.98 L616.78,671.28 L617.52,671.59 L618.26,671.89 L619.00,672.19 L619.74,672.49 L620.48,672.79 L621.22,673.09 L621.96,673.40 L622.70,673.70 L623.45,674.00 L624.19,674.30 L624.93,674.60 L625.67,674.91 L626.41,675.21 L627.15,675.51 L627.89,675.81 L628.63,676.11 L629.37,676.41 L630.11,676.72 L630.85,677.02 L631.59,677.32 L632.34,677.62 L633.08,677.92 L633.82,678.23 L634.56,678.53 L635.30,678.83 L636.04,679.13 L636.78,679.43 L637.52,679.74 L638.26,680.04 L639.00,680.34 L639.74,680.64 L640.48,680.95 L641.22,681.25 L641.97,681.55 L642.71,681.85 L643.45,682.15 L644.19,682.46 L644.93,682.76 L645.67,683.06 L646.41,683.36 L647.15,683.67 L647.89,683.97 L648.63,684.27 L649.37,684.57 L650.11,684.87 L650.85,685.18 L651.59,685.48 L652.33,685.78 L653.08,686.08 L653.82,686.39 L654.56,686.69 L655.30,686.99 L656.04,687.29 L656.78,687.60 L657.52,687.90 L658.26,688.20 L659.00,688.50 L659.74,688.81 L660.48,689.11 L661.22,689.41 L661.96,689.71 L662.70,690.02 L663.44,690.32 L664.19,690.62 L664.93,690.92 L665.67,691.23 L666.41,691.53 L667.15,691.83 L667.89,692.13 L668.63,692.44 L669.37,692.74 L670.11,693.04 L670.85,693.34 L671.59,693.65 L672.33,693.95 L673.07,694.25 L673.81,694.55 L674.55,694.86 L675.29,695.16 L676.03,695.46 L676.78,695.76 L677.52,696.07 L678.26,696.37 L679.00,696.67 L679.74,696.97 L680.48,697.28 L681.22,697.58 L681.96,697.88 L682.70,698.18 L683.44,698.49 L684.18,698.79 L684.92,699.09 L685.66,699.39 L686.40,699.70 L687.14,700.00 L687.88,700.30 L688.62,700.60 L689.37,700.91 L690.11,701.21 L690.85,701.51 L691.59,701.81 L692.33,702.12 L693.07,702.42 L693.81,702.72 L694.55,703.02 L695.29,703.33 L696.03,703.63 L696.77,703.93 L697.51,704.23 L698.25,704.54 L698.99,704.84 L699.73,705.14 L700.47,705.44 L701.21,705.75 L701.96,706.05 L702.70,706.35 L703.44,706.65 L704.18,706.96 L704.92,707.26 L705.66,707.56 L706.40,707.86 L707.14,708.17 L707.88,708.47 L708.62,708.77 L709.36,709.07 L710.10,709.38 L710.84,709.68 L711.58,709.98 L712.32,710.28 L713.07,710.59 L713.81,710.89 L714.55,711.19 L715.29,711.49 L716.03,711.79 L716.77,712.10 L717.51,712.40 L718.25,712.70 L718.99,713.00 L719.73,713.31 L720.47,713.61 L721.21,713.91 L721.95,714.21 L722.70,714.51 L723.44,714.82 L724.18,715.12 L724.92,715.42 L725.66,715.72 L726.40,716.02 L727.14,716.33 L727.88,716.63 L728.62,716.93 L729.36,717.23 L730.10,717.53 L730.84,717.84 L731.59,718.14 L732.33,718.44 L733.07,718.74 L733.81,719.04 L734.55,719.34 L735.29,719.65 L736.03,719.95 L736.77,720.25 L737.51,720.55 L738.25,720.85 L739.00,721.15 L739.74,721.45 L740.48,721.76 L741.22,722.06 L741.96,722.36 L742.70,722.66 L743.44,722.96 L744.18,723.26 L744.92,723.56 L745.66,723.87 L746.41,724.17 L747.15,724.47 L747.89,724.77 L748.63,725.07 L749.37,725.37 L750.11,725.67 L750.85,725.97 L751.59,726.27 L752.34,726.57 L753.08,726.88 L753.82,727.18 L754.56,727.48 L755.30,727.78 L756.04,728.08 L756.78,728.38 L757.53,728.68 L758.27,728.98 L759.01,729.28 L759.75,729.58 L760.49,729.88 L761.23,730.18 L761.97,730.48 L762.72,730.78 L763.46,731.08 L764.20,731.38 L764.94,731.68 L765.68,731.98 L766.42,732.28 L767.16,732.58 L767.91,732.88 L768.65,733.18 L769.39,733.48 L770.13,733.78 L770.87,734.08 L771.62,734.38 L772.36,734.68 L773.10,734.98 L773.84,735.28 L774.58,735.58 L775.32,735.88 L776.07,736.18 L776.81,736.48 L777.55,736.78 L778.29,737.08 L779.03,737.37 L779.78,737.67 L780.52,737.97 L781.26,738.27 L782.00,738.57 L782.74,738.87 L783.49,739.17 L784.23,739.47 L784.97,739.76 L785.71,740.06 L786.45,740.36 L787.20,740.66 L787.94,740.96 L788.68,741.26 L789.42,741.56 L790.17,741.85 L790.91,742.15 L791.65,742.45 L792.39,742.75 L793.14,743.05 L793.88,743.34 L794.62,743.64 L795.36,743.94 L796.11,744.24 L796.85,744.53 L797.59,744.83 L798.33,745.13 L799.08,745.43 L799.82,745.72 L800.56,746.02 L801.30,746.32 L802.05,746.62 L802.79,746.91 L803.53,747.21 L804.28,747.51 L805.02,747.80 L805.76,748.10 L806.50,748.40 L807.25,748.69 L807.99,748.99 L808.73,749.29 L809.48,749.58 L810.22,749.88 L810.96,750.17 L811.71,750.47 L812.45,750.77 L813.19,751.06 L813.94,751.36 L814.68,751.65 L815.42,751.95 L816.17,752.25 L816.91,752.54 L817.65,752.84 L818.40,753.13 L819.14,753.43 L819.88,753.72 L820.63,754.02 L821.37,754.31 L822.11,754.61 L822.86,754.90 L823.60,755.20 L824.34,755.49 L825.09,755.79 L825.83,756.08 L826.57,756.37 L827.32,756.67 L828.06,756.96 L828.81,757.26 L829.55,757.55 L830.29,757.85 L831.04,758.14 L831.78,758.43 L832.53,758.73 L833.27,759.02 L834.01,759.31 L834.76,759.61 L835.50,759.90 L836.25,760.19 L836.99,760.49 L837.74,760.78 L838.48,761.07 L839.22,761.37 L839.97,761.66 L840.71,761.95 L841.46,762.24 L842.20,762.54 L842.95,762.83 L843.69,763.12 L844.44,763.41 L845.18,763.71 L845.93,764.00 L846.67,764.29 L847.42,764.58 L848.16,764.87 L848.91,765.16 L849.65,765.46 L850.40,765.75 L851.14,766.04 L851.89,766.33 L852.63,766.62 L853.38,766.91 L854.12,767.20 L854.87,767.49 L855.61,767.78 L856.36,768.07 L857.10,768.37 L857.85,768.66 L858.59,768.95 L859.34,769.24 L860.08,769.53 L860.83,769.82 L861.57,770.11 L862.32,770.39 L863.07,770.68 L863.81,770.97 L864.56,771.26 L865.30,771.55 L866.05,771.84 L866.79,772.13 L867.54,772.42 L868.29,772.71 L869.03,773.00 L869.78,773.29 L870.53,773.57 L871.27,773.86 L872.02,774.15 L872.76,774.44 L873.51,774.73 L874.26,775.01 L875.00,775.30 L875.75,775.59 L876.50,775.88 L877.24,776.16 L877.99,776.45 L878.74,776.74 L879.48,777.03 L880.23,777.31 L880.98,777.60 L881.72,777.89 L882.47,778.17 L883.22,778.46 L883.96,778.74 L884.71,779.03 L885.46,779.32 L886.20,779.60 L886.95,779.89 L887.70,780.17 L888.45,780.46 L889.19,780.74 L889.94,781.03 L890.69,781.31 L891.44,781.60 L892.18,781.88 L892.93,782.17 L893.68,782.45 L894.43,782.74 L895.17,783.02 L895.92,783.31 L896.67,783.59 L897.42,783.87 L898.16,784.16 L898.91,784.44 L899.66,784.73 L900.41,785.01 L901.16,785.29 L901.91,785.58 L902.65,785.86 L903.40,786.14 L904.15,786.42 L904.90,786.71 L905.65,786.99 L906.40,787.27 L907.14,787.55 L907.89,787.84 L908.64,788.12 L909.39,788.40 L910.14,788.68 L910.89,788.96 L911.64,789.24 L912.39,789.52 L913.13,789.81 L913.88,790.09 L914.63,790.37 L915.38,790.65 L916.13,790.93 L916.88,791.21 L917.63,791.49 L918.38,791.77 L919.13,792.05 L919.88,792.33 L920.63,792.61 L921.38,792.89 L922.13,793.17 L922.88,793.44 L923.63,793.72 L924.38,794.00 L925.13,794.28 L925.88,794.56 L926.63,794.84 L927.38,795.12 L928.13,795.39 L928.88,795.67 L929.63,795.95 L930.38,796.23 L931.13,796.50 L931.88,796.78 L932.63,797.06 L933.38,797.34 L934.13,797.61 L934.88,797.89 L935.63,798.17 L936.38,798.44 L937.13,798.72 L937.88,798.99 L938.63,799.27 L939.38,799.55 L940.14,799.82 L940.89,800.10 L941.64,800.37 L942.39,800.65 L943.14,800.92 L943.89,801.20 L944.64,801.47 L945.40,801.75 L946.15,802.02 L946.90,802.29 L947.65,802.57 L948.40,802.84 L949.15,803.12 L949.91,803.39 L950.66,803.66 L951.41,803.93 L952.16,804.21 L952.91,804.48 L953.67,804.75 L954.42,805.03 L955.17,805.30 L955.92,805.57 L956.68,805.84 L957.43,806.11 L958.18,806.38 L958.93,806.66 L959.69,806.93 L960.44,807.20 L961.19,807.47 L961.95,807.74 L962.70,808.01 L963.45,808.28 L964.20,808.55 L964.96,808.82 L965.71,809.09 L966.46,809.36 L967.22,809.63 L967.97,809.90 L968.73,810.17 L969.48,810.44 L970.23,810.71 L970.99,810.97 L971.74,811.24 L972.49,811.51 L973.25,811.78 L974.00,812.05 L974.76,812.31 L975.00,812.40" stroke="#008000" fill="none" stroke-width="3.5" stroke-linejoin="round" stroke-linecap="butt"/>
</g>
<path d="M101.5,0V845" stroke="#808080" stroke-width="1" fill="none"/>
<path d="M968.5,0V845" stroke="#303030" stroke-width="1" fill="none"/>
<path d="M101,0.5H969" stroke="#282828" stroke-width="1" fill="none"/>
<path d="M101,422.5H969" stroke="#383838" stroke-width="1" fill="none"/>
<path d="M101,844.5H969" stroke="#303030" stroke-width="1" fill="none"/>
<text x="143.20" y="871.5" font-size="31.2" text-anchor="middle" font-family="'DejaVu Sans','Liberation Sans',sans-serif" fill="#000">0</text>
<text x="246.32" y="871.5" font-size="31.2" text-anchor="middle" font-family="'DejaVu Sans','Liberation Sans',sans-serif" fill="#000">25</text>
<text x="349.45" y="871.5" font-size="31.2" text-anchor="middle" font-family="'DejaVu Sans','Liberation Sans',sans-serif" fill="#000">50</text>
<text x="452.57" y="871.5" font-size="31.2" text-anchor="middle" font-family="'DejaVu Sans','Liberation Sans',sans-serif" fill="#000">75</text>
<text x="555.70" y="871.5" font-size="31.2" text-anchor="middle" font-family="'DejaVu Sans','Liberation Sans',sans-serif" fill="#000">100</text>
<text x="658.83" y="871.5" font-size="31.2" text-anchor="middle" font-family="'DejaVu Sans','Liberation Sans',sans-serif" fill="#000">125</text>
<text x="761.95" y="871.5" font-size="31.2" text-anchor="middle" font-family="'DejaVu Sans','Liberation Sans',sans-serif" fill="#000">150</text>
<text x="865.08" y="871.5" font-size="31.2" text-anchor="middle" font-family="'DejaVu Sans','Liberation Sans',sans-serif" fill="#000">175</text>
<text x="968.20" y="871.5" font-size="31.2" text-anchor="middle" font-family="'DejaVu Sans','Liberation Sans',sans-serif" fill="#000">200</text>
<text x="29.75" y="123.60" font-size="31.2" font-family="'DejaVu Sans','Liberation Sans',sans-serif" fill="#000">10</text>
<text x="69.76" y="111.66" font-size="21.84" font-family="'DejaVu Sans','Liberation Sans',sans-serif" fill="#000">42</text>
<text x="29.75" y="329.70" font-size="31.2" font-family="'DejaVu Sans','Liberation Sans',sans-serif" fill="#000">10</text>
<text x="69.76" y="317.76" font-size="21.84" font-family="'DejaVu Sans','Liberation Sans',sans-serif" fill="#000">41</text>
<text x="29.75" y="545.90" font-size="31.2" font-family="'DejaVu Sans','Liberation Sans',sans-serif" fill="#000">10</text>
<text x="69.76" y="533.96" font-size="21.84" font-family="'DejaVu Sans','Liberation Sans',sans-serif" fill="#000">42</text>
<text x="29.75" y="752.00" font-size="31.2" font-family="'DejaVu Sans','Liberation Sans',sans-serif" fill="#000">10</text>
<text x="69.76" y="740.06" font-size="21.84" font-family="'DejaVu Sans','Liberation Sans',sans-serif" fill="#000">41</text>
<text x="535.08" y="912.8" font-size="38.24" text-anchor="middle" font-family="'DejaVu Sans','Liberation Sans',sans-serif" fill="#000">Time (d)</text>
<g transform="translate(34.4,423.0) rotate(-90)">
<text x="-95.50" y="0.00" font-size="37.60" font-family="'DejaVu Sans','Liberation Sans',sans-serif" fill="#000">L</text>
<text x="-62.35" y="0.00" font-size="37.60" font-family="'DejaVu Sans','Liberation Sans',sans-serif" fill="#000">(</text>
<text x="-47.68" y="0.00" font-size="37.60" font-family="'DejaVu Sans','Liberation Sans',sans-serif" fill="#000">e</text>
<text x="-24.55" y="0.00" font-size="37.60" font-family="'DejaVu Sans','Liberation Sans',sans-serif" fill="#000">r</text>
<text x="-9.09" y="0.00" font-size="37.60" font-family="'DejaVu Sans','Liberation Sans',sans-serif" fill="#000">g</text>
<text x="20.89" y="0.00" font-size="37.60" font-family="'DejaVu Sans','Liberation Sans',sans-serif" fill="#000">s</text>
<text x="40.83" y="-14.40" font-size="26.32" font-family="'DejaVu Sans','Liberation Sans',sans-serif" fill="#000">−</text>
<text x="62.89" y="-14.40" font-size="26.32" font-family="'DejaVu Sans','Liberation Sans',sans-serif" fill="#000">1</text>
<text x="80.66" y="0.00" font-size="37.60" font-family="'DejaVu Sans','Liberation Sans',sans-serif" fill="#000">)</text>
</g>
<rect x="494.6" y="16.6" width="457.10" height="116.60" rx="5.5" ry="5.5" fill="#fff" fill-opacity="0.8" stroke="#cccccc" stroke-opacity="0.8" stroke-width="1.0"/>
<path d="M506.0,48.3H575.3" stroke="#0000ff" stroke-width="3.5" fill="none"/>
<path d="M506.0,101.9H575.3" stroke="#ff0000" stroke-width="3.5" fill="none"/>
<text x="599.80" y="58.80" font-size="32.80" font-style="italic" font-family="'DejaVu Sans','Liberation Sans',sans-serif" fill="#000">κ</text>
<text x="619.13 627.21 633.59 647.64 661.69" y="64.18" font-size="22.96" font-family="'DejaVu Sans','Liberation Sans',sans-serif" fill="#000">floor</text>
<text x="678.42 712.29 733.15 743.58 764.45 785.32 811.51 829.54" y="58.80" font-size="32.80" font-family="'DejaVu Sans','Liberation Sans',sans-serif" fill="#000">=0.001cm</text>
<text x="861.81" y="46.24" font-size="22.96" font-family="'DejaVu Sans','Liberation Sans',sans-serif" fill="#000">2</text>
<text x="882.64" y="58.80" font-size="32.80" font-family="'DejaVu Sans','Liberation Sans',sans-serif" fill="#000">g</text>
<text x="903.77 923.01" y="46.24" font-size="22.96" font-family="'DejaVu Sans','Liberation Sans',sans-serif" fill="#000">−1</text>
<text x="599.80" y="112.40" font-size="32.80" font-style="italic" font-family="'DejaVu Sans','Liberation Sans',sans-serif" fill="#000">κ</text>
<text x="619.13 627.21 633.59 647.64 661.69" y="117.78" font-size="22.96" font-family="'DejaVu Sans','Liberation Sans',sans-serif" fill="#000">floor</text>
<text x="678.42 712.29 733.15 743.58 769.78 787.81" y="112.40" font-size="32.80" font-family="'DejaVu Sans','Liberation Sans',sans-serif" fill="#000">=0.1cm</text>
<text x="820.07" y="99.84" font-size="22.96" font-family="'DejaVu Sans','Liberation Sans',sans-serif" fill="#000">2</text>
<text x="840.90" y="112.40" font-size="32.80" font-family="'DejaVu Sans','Liberation Sans',sans-serif" fill="#000">g</text>
<text x="862.04 881.28" y="99.84" font-size="22.96" font-family="'DejaVu Sans','Liberation Sans',sans-serif" fill="#000">−1</text>
<rect x="560.4" y="438.65" width="391.60" height="106.25" rx="5.5" ry="5.5" fill="#fff" fill-opacity="0.8" stroke="#cccccc" stroke-opacity="0.8" stroke-width="1.0"/>
<path d="M571.1,465.2H640.8" stroke="#0000ff" stroke-width="3.5" fill="none"/>
<path d="M571.1,513.4H640.8" stroke="#008000" stroke-width="3.5" fill="none"/>
<text x="666.1" y="477.8" font-size="32.8" font-family="'DejaVu Sans','Liberation Sans',sans-serif" fill="#000">Moderate Mixing</text>
<text x="666.1" y="526.4" font-size="32.8" font-family="'DejaVu Sans','Liberation Sans',sans-serif" fill="#000">Strong Mixing</text>
</svg>
</body></html>
